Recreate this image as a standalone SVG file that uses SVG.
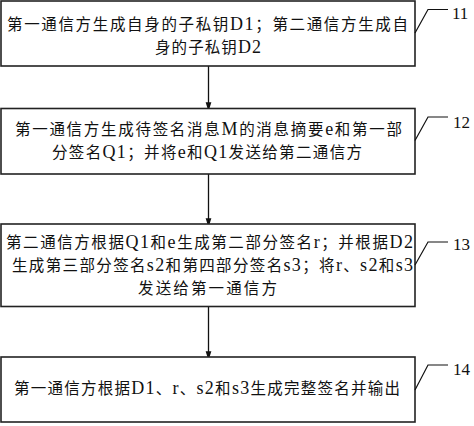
<svg xmlns="http://www.w3.org/2000/svg" width="474" height="426" viewBox="0 0 474 426">
<style>
.box{fill:#fff;stroke:#222;stroke-width:1.6}
.t{font-family:"Liberation Serif","Noto Sans CJK SC",serif;font-size:15.5px;fill:#111}
.l{font-size:18px}
.lb{font-family:"Liberation Serif",serif;font-size:17px;fill:#111}
.ld{fill:none;stroke:#111;stroke-width:1.2}
.ar{stroke:#111;stroke-width:1.3;fill:none}
</style>
<defs>
<marker id="ah" markerWidth="9" markerHeight="14" refX="9" refY="4.5" orient="auto" markerUnits="userSpaceOnUse" viewBox="0 0 14 9">
<path d="M0,0 L14,4.5 L0,9 Z" fill="#111"/>
</marker>
</defs>
<rect width="474" height="426" fill="#fff"/>
<g id="connectors">
<line class="ar" x1="208.5" y1="66" x2="208.5" y2="108" marker-end="url(#ah)"/>
<line class="ar" x1="208.5" y1="174" x2="208.5" y2="224" marker-end="url(#ah)"/>
<line class="ar" x1="208.5" y1="307" x2="208.5" y2="357" marker-end="url(#ah)"/>
</g>
<g id="node11">
<rect class="box" x="1" y="1" width="414" height="65"/>
<text class="t" x="7" y="30" textLength="401" lengthAdjust="spacing">第一通信方生成自身的子私钥<tspan class="l">D1</tspan>；第二通信方生成自</text>
<text class="t" x="155" y="53" textLength="106" lengthAdjust="spacing">身的子私钥<tspan class="l">D2</tspan></text>
<polyline class="ld" points="415,33 428,9.5 448,9.5"/>
<text class="lb" x="452" y="19">11</text>
</g>
<g id="node12">
<rect class="box" x="1" y="108.5" width="414" height="65.5"/>
<text class="t" x="15" y="135" textLength="387" lengthAdjust="spacing">第一通信方生成待签名消息<tspan class="l">M</tspan>的消息摘要<tspan class="l">e</tspan>和第一部</text>
<text class="t" x="52" y="158" textLength="310" lengthAdjust="spacing">分签名<tspan class="l">Q1</tspan>；并将<tspan class="l">e</tspan>和<tspan class="l">Q1</tspan>发送给第二通信方</text>
<polyline class="ld" points="415,140.5 428,117 448,117"/>
<text class="lb" x="453" y="127.5">12</text>
</g>
<g id="node13">
<rect class="box" x="1" y="224" width="414" height="82.5"/>
<text class="t" x="6" y="247.5" textLength="407" lengthAdjust="spacing">第二通信方根据<tspan class="l">Q1</tspan>和<tspan class="l">e</tspan>生成第二部分签名<tspan class="l">r</tspan>；并根据<tspan class="l">D2</tspan></text>
<text class="t" x="12" y="271" textLength="401" lengthAdjust="spacing">生成第三部分签名<tspan class="l">s2</tspan>和第四部分签名<tspan class="l">s3</tspan>；将<tspan class="l">r</tspan>、<tspan class="l">s2</tspan>和<tspan class="l">s3</tspan></text>
<text class="t" x="138" y="294" textLength="139" lengthAdjust="spacing">发送给第一通信方</text>
<polyline class="ld" points="415,265 428,242 448,242"/>
<text class="lb" x="453" y="250">13</text>
</g>
<g id="node14">
<rect class="box" x="1" y="357" width="414" height="65"/>
<text class="t" x="14" y="394" textLength="386" lengthAdjust="spacing">第一通信方根据<tspan class="l">D1</tspan>、<tspan class="l">r</tspan>、<tspan class="l">s2</tspan>和<tspan class="l">s3</tspan>生成完整签名并输出</text>
<polyline class="ld" points="415,390 428,365 448,365"/>
<text class="lb" x="453" y="375">14</text>
</g>
</svg>
